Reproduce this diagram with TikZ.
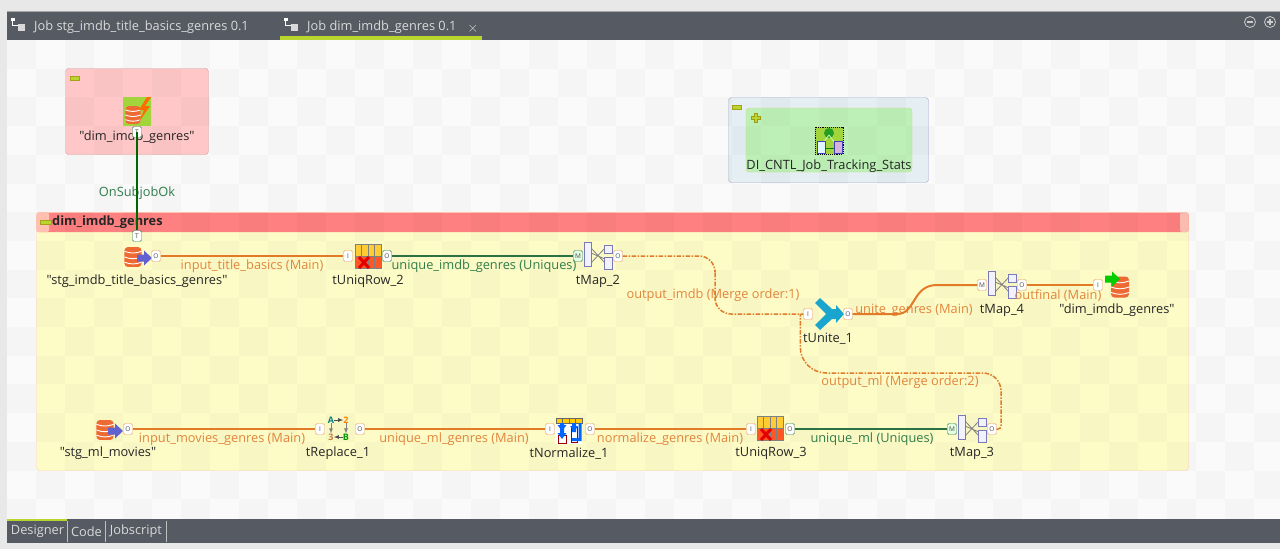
\documentclass[tikz,border=0pt]{standalone}
\usepackage{fontspec}
\newfontfamily\uifont{Open Sans}
\definecolor{barcol}{HTML}{565A63}
\definecolor{limecol}{HTML}{B9D62E}
\definecolor{orangecol}{HTML}{E2853C}
\definecolor{linecol}{HTML}{E27A28}
\definecolor{greencol}{HTML}{2F7D4A}
\definecolor{dbcol}{HTML}{EE6A33}
\definecolor{iconbg}{HTML}{A2D43C}
\tikzset{
  lbl/.style={inner sep=0pt,yshift=-1.5pt,text=black!85,font=\uifont\fontsize{12.8}{15}\selectfont},
  orangelbl/.style={lbl,text=orangecol},
  greenlbl/.style={lbl,text=greencol},
  tablbl/.style={lbl,text=black!15},
  portbox/.style={draw=orangecol!80,fill=white,rounded corners=1.5pt,inner sep=0pt,
    minimum width=9pt,minimum height=11pt,text=black!70,font=\uifont\fontsize{6.5}{7}\selectfont},
  greenport/.style={portbox,draw=greencol},
  minusbox/.style={draw=olive!60!limecol,fill=limecol,inner sep=0pt,minimum width=9pt,minimum height=3.5pt},
  mainline/.style={draw=linecol,line width=1.5pt},
  uniqline/.style={draw=greencol!90!black,line width=1.5pt},
  mergeline/.style={draw=linecol,line width=1.5pt,dash pattern=on 4.5pt off 1.5pt on 1.5pt off 1.5pt},
  dbstack/.pic={
    \fill[dbcol,rounded corners=3.5pt] (-9,-10.5) rectangle (9,10.5);
    \draw[white,line width=.9pt] (-9,-6) to[bend right=20] (9,-6);
    \draw[white,line width=.9pt] (-9,0) to[bend right=20] (9,0);
    \draw[white,line width=.9pt] (-9,5.5) to[bend right=20] (9,5.5);
  },
  blockarrow/.pic={
    \fill (-7,-3.5) -- (0,-3.5) -- (0,-7.5) -- (8,0) -- (0,7.5) -- (0,3.5) -- (-7,3.5) -- cycle;
  },
  mapicon/.pic={
    \draw[black!50,line width=.8pt] (-7,-8) -- (7,7) (-7,7) -- (7,-8) (-7,-3) -- (7,3);
    \draw[blue!30!gray!80,fill=blue!5,line width=.8pt] (-14,-14) rectangle (-7,10);
    \draw[blue!30!gray!80,fill=blue!5,line width=.8pt] (6,-11) rectangle (14,-3);
    \draw[blue!30!gray!80,fill=blue!5,line width=.8pt] (6,1) rectangle (14,13);
  },
  uniqicon/.pic={
    \fill[orange!50!yellow!80] (-13,-12) rectangle (13,0);
    \fill[red!55!orange!85] (-13,0) rectangle (13,12);
    \draw[black!50,line width=.5pt] (-13,-12) rectangle (13,12) (-13,0) -- (13,0);
    \foreach \k in {-6.5,0,6.5} \draw[black!50,line width=.5pt] (\k,-12) -- (\k,12);
    \draw[red!90!black,line width=3pt] (-9,1) -- (1,12) (1,1) -- (-9,12);
  },
  normicon/.pic={
    \fill[white] (-14,-8) rectangle (13,15);
    \draw[black!60,fill=orange!40!yellow] (-13,-11) rectangle (13,-6);
    \foreach \k in {-6.5,0,6.5} \draw[black!60] (\k,-11) -- (\k,-6);
    \draw[red!60!black,fill=white] (-11,6) rectangle (-3,14) (2,-2) rectangle (8,13);
    \fill[blue!60!cyan] (-9,-6) rectangle (-5,7) (3,-6) rectangle (7,3) (9.5,-6) rectangle (12.5,11) (3,9) rectangle (12.5,12);
    \fill[blue!60!cyan] (-11.5,-4) -- (-2.5,-4) -- (-7,2) -- cycle (-11.5,4) -- (-2.5,4) -- (-7,10) -- cycle (1,-3) -- (9,-3) -- (5,3) -- cycle;
  }
}
\begin{document}
\begin{tikzpicture}[x=1pt,y=-1pt]
  \useasboundingbox (0,0) rectangle (1280,549);
  \fill[black!9] (0,0) rectangle (1280,549);
  \fill[white!98!black] (7,40) rectangle (1280,519);
  \draw[rounded corners=3pt,draw=red!35!gray!55,fill=red!22!white] (65.5,68.5) rectangle (208.5,154.5);
  \definecolor{statsout}{HTML}{E5EFF3}\definecolor{statsin}{HTML}{BDF0B7}\definecolor{subbody}{HTML}{FDFBC6}
  \draw[rounded corners=3pt,draw=blue!25!gray!55,fill=statsout] (728.5,97.5) rectangle (928.5,182.5);
  \draw[rounded corners=3pt,draw=olive!35,fill=statsin] (746,108) rectangle (912,172);
  \draw[rounded corners=3pt,draw=orange!35,fill=subbody] (36.5,212.5) rectangle (1188.5,470.5);
  \fill[rounded corners=2pt,red!50!white] (36.5,212.5) rectangle (1188.5,232);
  \fill[orange!35!red!30,rounded corners=2pt] (36.5,212.5) rectangle (49,232);
  \fill[orange!35!red!30,rounded corners=2pt] (1180,212.5) rectangle (1188.5,232);
  \begin{scope}
    \clip (7,40) rectangle (1280,519);
    \foreach \i in {0,...,43} {
      \foreach \j in {0,...,16} {
        \ifodd\numexpr\i+\j\relax\else
          \fill[black,opacity=.018] ({7+29*\i},{40+28.7*\j}) rectangle ++(29,28.7);
        \fi
      }
    }
  \end{scope}
  \fill[barcol] (7,12) rectangle (1280,40);
  \fill[black!35] (7,11) rectangle (1280,12);
  \fill[barcol] (7,519) rectangle (1280,542.5);
  \fill[limecol] (280,36) rectangle (482,40);
  \fill[limecol] (7,519) rectangle (67,521);
  \draw[black!25] (67,521) -- (67,542) (105.5,521) -- (105.5,542) (166,521) -- (166,542);
  \foreach \tx in {12,285} {
    \draw[white,line width=1pt] (\tx,19.5) -- (\tx,25) -- (\tx+6,25);
    \fill[white] (\tx-1,18) rectangle ++(3.5,3);
    \fill[white!85!black] (\tx+6,24) rectangle ++(7,7);
  }
  \draw[black!20,line width=.8pt] (1250,22) circle (5.5) (1270,22) circle (5.5);
  \draw[black!20,line width=1.2pt] (1247,22) -- (1253,22) (1267,22) -- (1273,22) (1270,19) -- (1270,25);
  \draw[black!25] (469.5,25) -- (476,31.5) (476,25) -- (469.5,31.5);

  \node[tablbl,anchor=west] (tabA) at (34,26) {Job stg\_imdb\_title\_basics\_genres 0.1};
  \node[tablbl,anchor=west] (tabB) at (307,26) {Job dim\_imdb\_genres 0.1};
  \node[tablbl] (tabDesigner) at (37.5,530) {Designer};
  \node[tablbl] (tabCode) at (86.5,530) {Code};
  \node[tablbl] (tabJobscript) at (136,530) {Jobscript};

  \node[minusbox] (minusJob) at (75,78) {};
  \node[minusbox] (minusStats) at (737,107) {};
  \node[minusbox,minimum width=11pt] (minusSub) at (46,222) {};
  \node[lbl,anchor=west,font=\uifont\fontsize{12.8}{15}\selectfont\bfseries] (subTitle) at (52,221) {dim\_imdb\_genres};
  \node[fill=olive!70!limecol,inner sep=0pt,minimum width=4pt,minimum height=10pt] (plusV) at (756,118) {};
  \node[fill=olive!70!limecol,inner sep=0pt,minimum width=10pt,minimum height=4pt] (plusH) at (756,118) {};
  \node[fill=limecol,inner sep=0pt,minimum width=2.5pt,minimum height=8pt] (plusIn) at (756,118) {};
  \node[fill=limecol,inner sep=0pt,minimum width=8pt,minimum height=2.5pt] (plusInH) at (756,118) {};

  \fill[iconbg] (123,97) rectangle (151,126);
  \pic[scale=.85] at (133,115) {dbstack};
  \fill[orange!85!red] (147,97) -- (139,110) -- (144,110) -- (139,122) -- (150,106) -- (145,106) -- (151,97) -- cycle;
  \fill[iconbg] (815,127) rectangle (843,154);
  \draw[black,densely dotted,line width=.9pt] (815,127) rectangle (843,154);
  \fill[green!55!black!85] (829,133) circle (5);
  \draw[white!80!green,line width=.7pt] (829,135) -- (821,146) (829,135) -- (837,146);
  \draw[green!50!black,line width=1pt] (825,148) -- (834,148);
  \draw[blue!50!gray,fill=cyan!12] (817,141) rectangle (825,153);
  \draw[blue!50!gray,fill=violet!30] (834,141) rectangle (842,153);
  \pic[scale=.95] at (133,257) {dbstack};
  \pic[fill=blue!55!gray!80] at (144,258) {blockarrow};
  \pic[scale=.95] at (105,430) {dbstack};
  \pic[fill=blue!55!gray!80] at (115,431) {blockarrow};
  \pic at (1120,287) {dbstack};
  \pic[fill=green!80!black] at (1112,279) {blockarrow};
  \pic at (368,256) {uniqicon};
  \pic at (770,428) {uniqicon};
  \pic at (598,256) {mapicon};
  \pic at (972,429) {mapicon};
  \pic at (1002,285) {mapicon};
  \pic at (569,429) {normicon};
  \definecolor{unitecol}{HTML}{1AA5CE}
  \fill[unitecol] (815,303) -- (820,298) -- (832,309) -- (836,309) -- (836,305) -- (844,314) -- (836,323) -- (836,319) -- (832,319) -- (820,330) -- (815,325) -- (826,314) -- cycle;
  \node[inner sep=0pt,text=teal,font=\uifont\fontsize{9}{9}\bfseries\selectfont] (repA) at (331,420) {A};
  \node[inner sep=0pt,text=orange,font=\uifont\fontsize{9}{9}\bfseries\selectfont] (repTwo) at (346,420) {2};
  \node[inner sep=0pt,text=brown,font=\uifont\fontsize{9}{9}\bfseries\selectfont] (repThree) at (331,437) {3};
  \node[inner sep=0pt,text=green!60!black,font=\uifont\fontsize{9}{9}\bfseries\selectfont] (repB) at (346,437) {B};
  \draw[-latex,black!70,line width=.8pt] (repA) -- (repTwo);
  \draw[-latex,black!70,line width=.8pt] (repB) -- (repThree);
  \draw[-latex,black!50,line width=.8pt] (repA) -- (repThree);
  \draw[-latex,black!50,line width=.8pt] (repTwo) -- (repB);

  \node[lbl] (jobLbl) at (137,136) {"dim\_imdb\_genres"};
  \node[lbl] (statsLbl) at (829,165) {DI\_CNTL\_Job\_Tracking\_Stats};
  \node[greenlbl] (okLbl) at (137,192) {OnSubjobOk};
  \node[lbl] (stgImdbLbl) at (137,280) {"stg\_imdb\_title\_basics\_genres"};
  \node[lbl] (uniqTwoLbl) at (368,280) {tUniqRow\_2};
  \node[lbl] (mapTwoLbl) at (598,280) {tMap\_2};
  \node[lbl] (uniteLbl) at (828,337) {tUnite\_1};
  \node[lbl] (mapFourLbl) at (1002,309) {tMap\_4};
  \node[lbl] (dimLbl) at (1117,309) {"dim\_imdb\_genres"};
  \node[lbl] (stgMlLbl) at (108,452) {"stg\_ml\_movies"};
  \node[lbl] (replaceLbl) at (338,452) {tReplace\_1};
  \node[lbl] (normLbl) at (569,452) {tNormalize\_1};
  \node[lbl] (uniqThreeLbl) at (771,452) {tUniqRow\_3};
  \node[lbl] (mapThreeLbl) at (972,452) {tMap\_3};
  \node[orangelbl] (titleLink) at (252,265) {input\_title\_basics (Main)};
  \node[greenlbl] (imdbLink) at (484,265) {unique\_imdb\_genres (Uniques)};
  \node[orangelbl] (outImdbLink) at (713,294) {output\_imdb (Merge order:1)};
  \node[orangelbl] (uniteLink) at (914,309) {unite\_genres (Main)};
  \node[orangelbl] (finalLink) at (1058,294) {outfinal (Main)};
  \node[orangelbl] (outMlLink) at (900,381) {output\_ml (Merge order:2)};
  \node[orangelbl] (moviesLink) at (222,438) {input\_movies\_genres (Main)};
  \node[orangelbl] (mlLink) at (454,438) {unique\_ml\_genres (Main)};
  \node[orangelbl] (normLink) at (670,438) {normalize\_genres (Main)};
  \node[greenlbl] (uniqMlLink) at (872,438) {unique\_ml (Uniques)};

  \node[greenport] (jobOut) at (137,132) {T};
  \node[greenport] (subIn) at (137,236) {T};
  \node[portbox] (stgImdbOut) at (156,256) {O};
  \node[portbox] (uniqTwoIn) at (348,256) {I};
  \node[greenport] (uniqTwoOut) at (387,256) {O};
  \node[greenport,fill=green!10] (mapTwoIn) at (578,256) {M};
  \node[portbox] (mapTwoOut) at (618,256) {O};
  \node[portbox] (uniteIn) at (808,314) {I};
  \node[portbox] (uniteOut) at (848,314) {O};
  \node[portbox] (mapFourIn) at (982,285) {M};
  \node[portbox] (mapFourOut) at (1022,285) {O};
  \node[portbox] (dimIn) at (1098,285) {I};
  \node[portbox] (stgMlOut) at (128,429) {O};
  \node[portbox] (replaceIn) at (320,429) {I};
  \node[portbox] (replaceOut) at (360,429) {O};
  \node[portbox] (normIn) at (550,429) {I};
  \node[portbox] (normOut) at (590,429) {O};
  \node[portbox] (uniqThreeIn) at (751,429) {I};
  \node[greenport] (uniqThreeOut) at (790,429) {O};
  \node[greenport,fill=green!10] (mapThreeIn) at (952,429) {M};
  \node[portbox] (mapThreeOut) at (992,429) {O};
  \coordinate (bendImdb) at (715,285);
  \coordinate (riseMl) at (1001,415);
  \coordinate (bendMl) at (1001,373);
  \coordinate (turnA) at (897,314);
  \coordinate (turnB) at (937,285);

  \draw[draw=green!40!black,line width=2pt] (jobOut.center) -- (subIn.north);
  \draw[mainline] (stgImdbOut) -- (uniqTwoIn);
  \draw[uniqline] (uniqTwoOut) -- (mapTwoIn);
  \draw[mergeline,rounded corners=16pt] (mapTwoOut.east) -| (bendImdb) |- (uniteIn.west);
  \draw[mergeline,rounded corners=3pt] (mapThreeOut.east) -| (riseMl) [rounded corners=18pt] -- (bendMl) [rounded corners=26pt] -| ([xshift=-3pt]uniteIn.west);
  \draw[mainline,line width=2pt] (uniteOut.east) -- (turnA) .. controls (916,314) and (912,285) .. (turnB) -- (mapFourIn.west);
  \draw[mainline] (mapFourOut) -- (dimIn);
  \draw[mainline] (stgMlOut) -- (replaceIn);
  \draw[mainline] (replaceOut) -- (normIn);
  \draw[mainline] (normOut) -- (uniqThreeIn);
  \draw[uniqline] (uniqThreeOut) -- (mapThreeIn);
\end{tikzpicture}
\end{document}
